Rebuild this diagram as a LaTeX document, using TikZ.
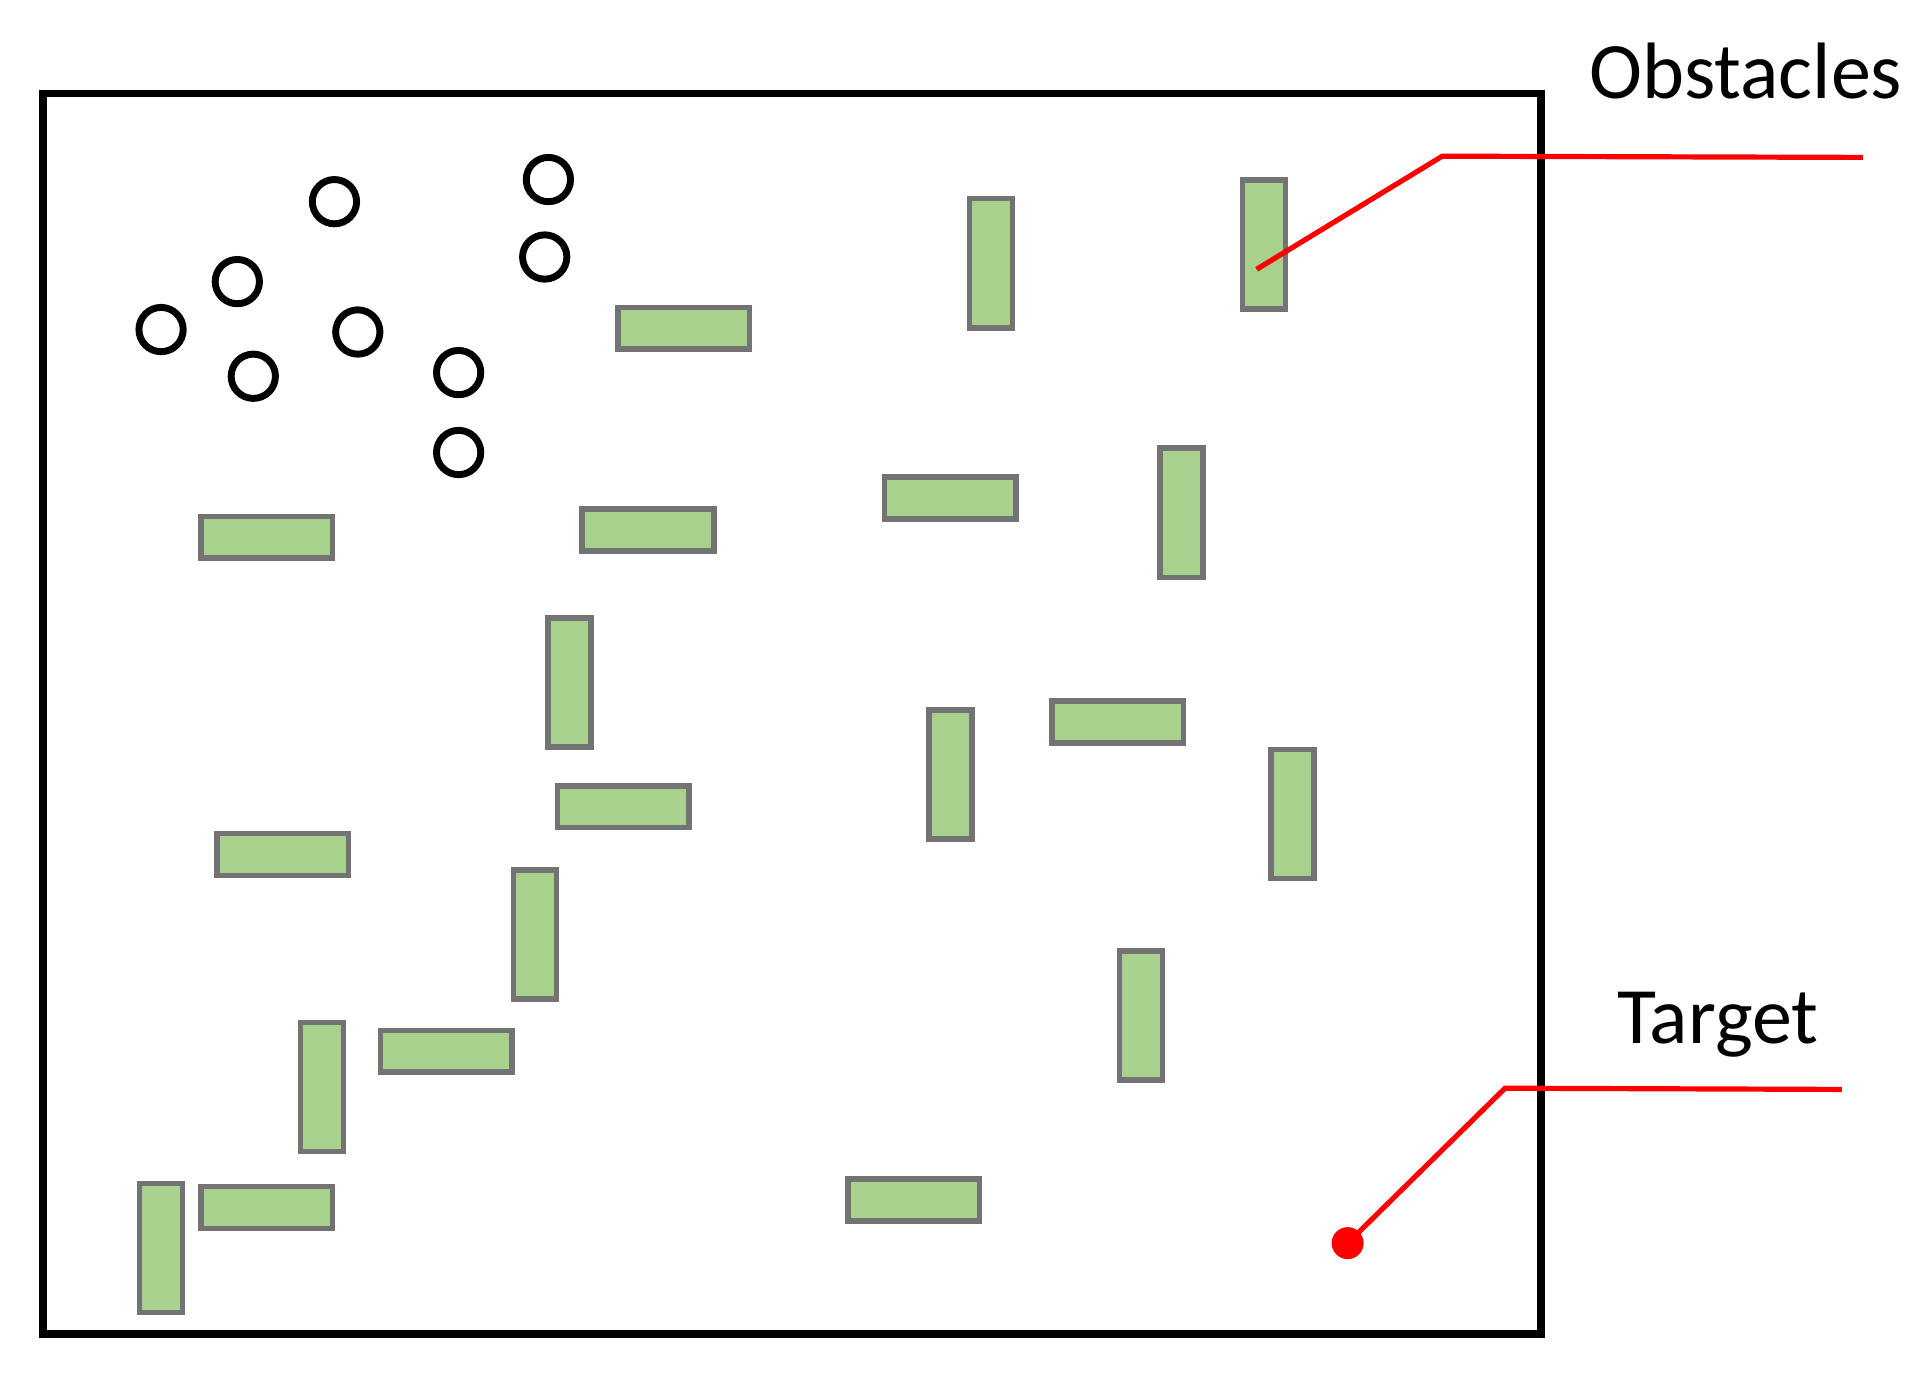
\documentclass[tikz,border=0pt]{standalone}
\usepackage{fontspec}
\setmainfont{Carlito}
\begin{document}
\begin{tikzpicture}[x=0.01cm,y=-0.01cm,
  obs/.style={draw=black!55,line width=1.3pt},
  hbar/.style={obs,minimum width=1.07cm,minimum height=0.34cm,inner sep=0pt},
  vbar/.style={obs,minimum width=0.35cm,minimum height=1.05cm,inner sep=0pt},
  ring/.style={circle,draw=black,line width=1.6pt,minimum size=0.36cm,inner sep=0pt},
  lab/.style={font=\fontsize{18.5}{22}\selectfont}]
\definecolor{obsg}{RGB}{169,209,142}
\tikzset{obs/.append style={fill=obsg}}
\useasboundingbox (0,0) rectangle (1568,1120);
\draw[line width=1.8pt] (35,76) rectangle (1253,1085);
\foreach \n/\x/\y in {v1/806/214,v2/1028/199,v3/961/417,v4/463/555,v5/773/630,v6/1051/662,v7/435/760,v8/928/826,v9/262/884,v10/131/1015}
  \node[vbar] (\n) at (\x,\y) {};
\foreach \n/\x/\y in {h1/556/267,h2/773/405,h3/217/437,h4/527/431,h5/909/587,h6/507/656,h7/230/695,h8/363/855,h9/217/982,h10/743/976}
  \node[hbar] (\n) at (\x,\y) {};
\foreach \n/\x/\y in {c1/272/164,c2/446/146,c3/193/229,c4/443/209,c5/131/268,c6/291/270,c7/206/306,c8/373/303,c9/373/368}
  \node[ring] (\n) at (\x,\y) {};
\coordinate (op) at (1022,219);
\coordinate (ob) at (1173,127);
\coordinate (oe) at (1515,128);
\draw[red,line width=1.2pt] (op) -- (ob) -- (oe);
\node[lab] (ot) at (1420,58) {Obstacles};
\node[circle,fill=red,minimum size=0.26cm,inner sep=0pt] (tg) at (1096,1011) {};
\coordinate (tb) at (1224,885);
\coordinate (te) at (1498,886);
\draw[red,line width=1.2pt] (tg.center) -- (tb) -- (te);
\node[lab] (tt) at (1397,833) {Target};
\end{tikzpicture}
\end{document}
